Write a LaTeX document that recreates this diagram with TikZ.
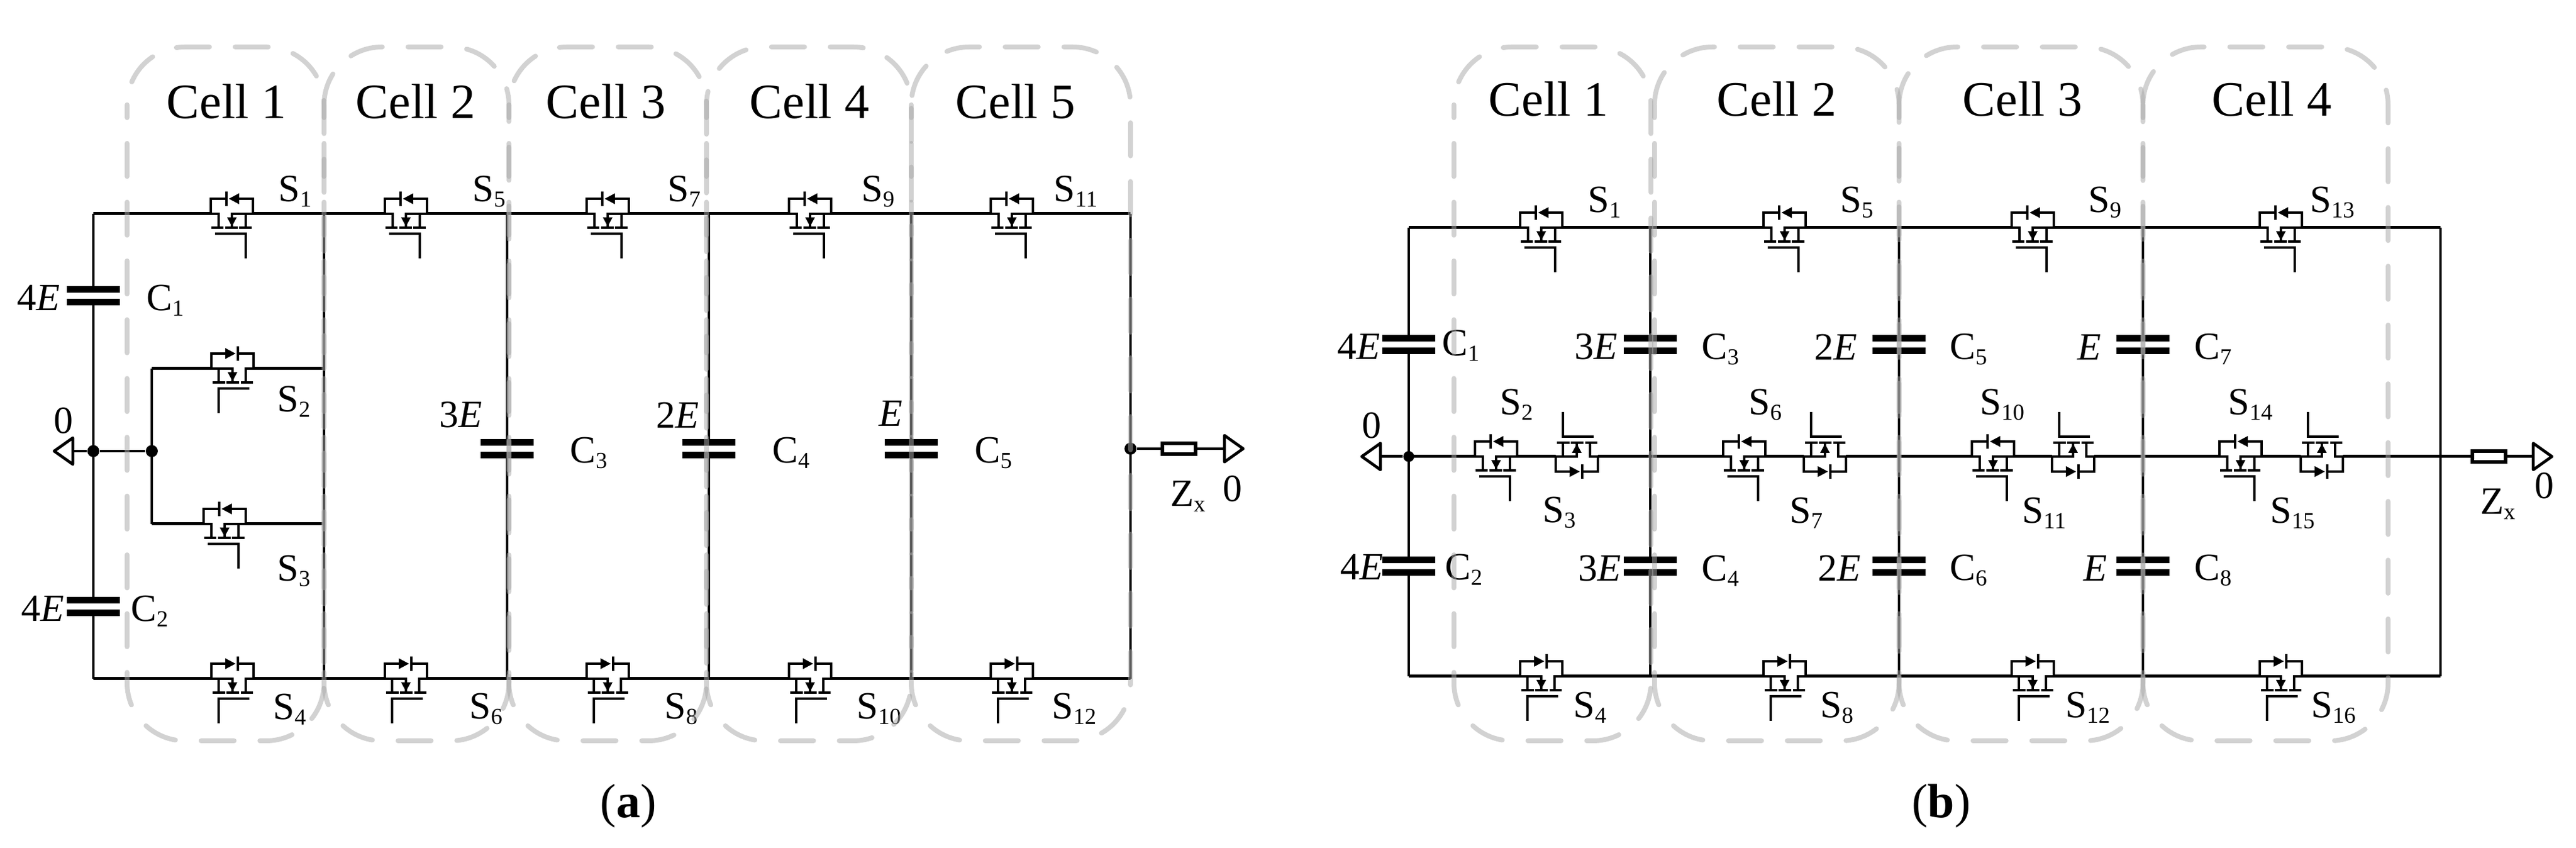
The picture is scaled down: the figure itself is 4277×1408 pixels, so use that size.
\documentclass[tikz,border=0pt]{standalone}
\usepackage{fontspec}
\setmainfont{Liberation Serif}
\newcommand{\subs}[2]{#1\raisebox{-2.2pt}{\fontsize{9.5}{10}\selectfont #2}}

\begin{document}
\begin{tikzpicture}
[%%%%%%%%%%%%%%%%%%%%%%%%%%%%%%
x=0.25pt,y=-0.25pt,
wire/.style={draw=black,line width=1.25pt,line join=miter},
fetl/.style={draw=black,line width=1pt,line join=miter},
plate/.style={draw=black,line width=2.6pt},
cellbox/.style={draw=black!34,draw opacity=.52,line width=2pt,line cap=round,rounded corners=24pt,dash pattern=on 13.75pt off 10.65pt,dash phase=8.4pt},
lab/.style={anchor=base west,inner sep=0pt,font=\fontsize{16}{18}\selectfont},
celltxt/.style={anchor=base,inner sep=0pt,font=\fontsize{20.5}{24}\selectfont},
txt/.style={anchor=base,inner sep=0pt,font=\fontsize{16}{18}\selectfont},
tag/.style={anchor=base,inner sep=0pt,font=\fontsize{20}{24}\selectfont},
dot/.style={circle,fill=black,inner sep=0pt,minimum size=5pt},
res/.style={rectangle,draw=black,line width=1.5pt,inner sep=0pt,minimum width=13.75pt,minimum height=4.5pt},
fet/.pic={
\draw[fetl] (-35,0) -- (-35,-25) -- (-9,-25);
\draw[fetl] (12,-25) -- (35,-25) -- (35,0);
\draw[fetl,line width=.9pt] (-9,-37) -- (-9,-13);
\fill (-5,-25) -- (12,-34) -- (12,-16) -- cycle;
\draw[fetl] (-35,0) -- (-22,0) -- (-22,23);
\draw[fetl] (35,0) -- (0,0) -- (0,23);
\draw[fetl] (23,0) -- (23,23);
\draw[fetl] (-34,23) -- (-14,23);
\draw[fetl] (-11,23) -- (10,23);
\draw[fetl] (12,23) -- (33,23);
\fill (-8,6) -- (8,6) -- (0,21) -- cycle;
\draw[fetl] (-28,33) -- (23,33) -- (23,74);
\coordinate (-l) at (-35,0);
\coordinate (-r) at (35,0);
},
capa/.pic={
\draw[plate] (-44,-10.5) -- (44,-10.5);
\draw[plate] (-44,10.5) -- (44,10.5);
\coordinate (-t) at (0,-10.5);
\coordinate (-b) at (0,10.5);
},
gnd/.pic={
\draw[fetl,line width=1.2pt,line join=round] (0,-22) -- (0,22) -- (31,0) -- cycle;
\coordinate (-a) at (0,0);
},
]%%%%%%%%%%%%%%%%%%%%%%%%%%%%%%
\useasboundingbox (0,0) rectangle (4277,1408);

\foreach \i/\x in {0/155,1/538,2/842,3/1177,4/1513,5/1877}{
\coordinate (aT\i) at (\x,355);
\coordinate (aB\i) at (\x,1127);
}
\foreach \i/\x in {0/2339,1/2740,2/3153,3/3558,4/4052}{
\coordinate (bT\i) at (\x,378);
\coordinate (bB\i) at (\x,1123);
\coordinate (bM\i) at (\x,758);
}
\coordinate (aJ0) at (252,612);
\coordinate (aJ1) at (538,612);
\coordinate (aJ2) at (252,870);
\coordinate (aJ3) at (538,870);

\foreach \n/\x/\y in {aS1/385/355,aS5/674/355,aS7/1009/355,aS9/1345/355,aS11/1680/355,aS3/373/870,bS1/2559/378,bS5/2963/378,bS9/3375/378,bS13/3787/378,bS2/2484/758,bS6/2896/758,bS10/3309/758,bS14/3720/758}{
\pic (\n) at (\x,\y) {fet};
}
\foreach \n/\x/\y in {aS2/386/612,aS4/386/1127,aS6/674/1127,aS8/1009/1127,aS10/1345/1127,aS12/1680/1127,bS4/2559/1123,bS8/2963/1123,bS12/3375/1123,bS16/3787/1123}{
\pic[xscale=-1] (\n) at (\x,\y) {fet};
}
\foreach \n/\x/\y in {bS3/2618/758,bS7/3030/758,bS11/3442/758,bS15/3855/758}{
\pic[xscale=-1,yscale=-1] (\n) at (\x,\y) {fet};
}

\foreach \n/\x/\y in {aC1/155/491,aC2/155/1007,aC3/842/745,aC4/1177/745,aC5/1513/745,bC1/2339/572,bC2/2339/940,bC3/2740/572,bC4/2740/940,bC5/3153/572,bC6/3153/940,bC7/3558/572,bC8/3558/940}{
\pic (\n) at (\x,\y) {capa};
}

\foreach \a/\s/\b in {aT0/aS1/aT1,aT1/aS5/aT2,aT2/aS7/aT3,aT3/aS9/aT4,aT4/aS11/aT5,aJ2/aS3/aJ3,bT0/bS1/bT1,bT1/bS5/bT2,bT2/bS9/bT3,bT3/bS13/bT4}{
\draw[wire] (\a) -- (\s-l);
\draw[wire] (\s-r) -- (\b);
}
\foreach \a/\s/\b in {aJ0/aS2/aJ1,aB0/aS4/aB1,aB1/aS6/aB2,aB2/aS8/aB3,aB3/aS10/aB4,aB4/aS12/aB5,bB0/bS4/bB1,bB1/bS8/bB2,bB2/bS12/bB3,bB3/bS16/bB4}{
\draw[wire] (\a) -- (\s-r);
\draw[wire] (\s-l) -- (\b);
}
\foreach \a/\p/\q/\b in {bM0/bS2/bS3/bM1,bM1/bS6/bS7/bM2,bM2/bS10/bS11/bM3,bM3/bS14/bS15/bM4}{
\draw[wire] (\a) -- (\p-l);
\draw[wire] (\p-r) -- (\q-r);
\draw[wire] (\q-l) -- (\b);
}

\draw[fetl] (aT0) -- (aC1-t);
\draw[fetl] (aC1-b) -- (aC2-t);
\draw[fetl] (aC2-b) -- (aB0);
\draw[fetl] (aT1) -- (aB1);
\draw[fetl] (aJ0) -- (aJ2);
\foreach \c/\i in {aC3/2,aC4/3,aC5/4}{
\draw[fetl] (aT\i) -- (\c-t);
\draw[fetl] (\c-b) -- (aB\i);
}
\draw[fetl] (aT5) -- (aB5);
\foreach \c/\d/\i in {bC1/bC2/0,bC3/bC4/1,bC5/bC6/2,bC7/bC8/3}{
\draw[fetl] (bT\i) -- (\c-t);
\draw[fetl] (\c-b) -- (\d-t);
\draw[fetl] (\d-b) -- (bB\i);
}
\draw[fetl] (bT4) -- (bB4);

\node[dot] (aN0) at (155,749){};
\node[dot] (aN1) at (252,749){};
\node[dot] (aN2) at (1877,745){};
\node[dot,minimum size=4.5pt] (bN0) at (2339,758){};
\pic[xscale=-1] (aG0) at (121,749) {gnd};
\pic (aG1) at (2033,745) {gnd};
\pic[xscale=-1] (bG0) at (2292,758) {gnd};
\pic (bG1) at (4206,758) {gnd};
\node[res] (aZ) at (1957.5,745){};
\node[res] (bZ) at (4132.5,758){};
\draw[fetl] (aG0-a) -- (aN0) -- (aN1);
\draw[fetl] (aN2) -- (aZ) -- (aG1-a);
\draw[wire] (bG0-a) -- (bN0);
\draw[wire] (bM4) -- (bZ) -- (bG1-a);

\foreach \l/\s/\x/\y in {S/1/462/335,S/2/460/684,S/3/460/965,S/4/453/1195,S/5/784/335,S/6/779/1194,S/7/1108/335,S/8/1103/1194,S/9/1430/335,S/10/1422/1194,S/11/1749/335,S/12/1746/1194,C/1/243/516,C/2/217/1032,C/3/946/769,C/4/1282/769,C/5/1618/769,Z/x/1943/841}{
\node[lab] (a\l\s) at (\x,\y) {\subs{\l}{\s}};
}
\foreach \l/\s/\x/\y in {S/1/2636/353,S/2/2490/689,S/3/2561/868,S/4/2612/1192,S/5/3055/353,S/6/2903/689,S/7/2971/869,S/8/3022/1192,S/9/3467/353,S/10/3287/689,S/11/3357/869,S/12/3429/1192,S/13/3835/353,S/14/3699/689,S/15/3769/869,S/16/3837/1192,C/1/2394/591,C/2/2399/963,C/3/2825/597,C/4/2825/965,C/5/3237/597,C/6/3237/964,C/7/3643/597,C/8/3643/964,Z/x/4118/854}{
\node[lab] (b\l\s) at (\x,\y) {\subs{\l}{\s}};
}
\foreach \i/\v/\x/\y in {0/4/28/516,1/4/35/1032,2/3/729/710,3/2/1089/711,4//1459/708,5/4/2220/597,6/4/2225/963,7/3/2614/597,8/3/2620/965,9/2/3012/598,10/2/3018/965,11//3449/598,12//3459/965}{
\node[lab] (v\i) at (\x,\y) {\v\textit{E}};
}
\node[txt] (aO0) at (106,720) {0};
\node[txt] (aO1) at (2046,833) {0};
\node[txt] (bO0) at (2277,728) {0};
\node[txt] (bO1) at (4224,828) {0};

\foreach \n/\x in {1/376,2/690,3/1006,4/1344,5/1686}{
\node[celltxt] (aCell\n) at (\x,197) {Cell \n};
}
\foreach \n/\x in {1/2571,2/2950,3/3358,4/3772}{
\node[celltxt] (bCell\n) at (\x,193) {Cell \n};
}
\node[tag] (aTag) at (1043,1358) {(\textbf{a})};
\node[tag] (bTag) at (3223,1358) {(\textbf{b})};

\foreach \l/\r in {211/538,538/845,845/1173,1173/1513,1513/1877,2414/2741,2747/3153,3153/3558,3558/3965}{
\draw[cellbox] (\l,78) rectangle (\r,1230);
}
\end{tikzpicture}
\end{document}
